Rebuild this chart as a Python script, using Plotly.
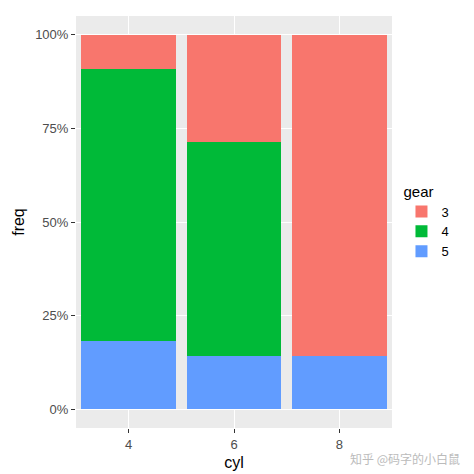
import plotly.graph_objects as go

cyl = ["4", "6", "8"]
gears = ["5", "4", "3"]
freq = {
    "3": [0.09, 0.286, 0.857],
    "4": [0.727, 0.571, 0.0],
    "5": [0.182, 0.143, 0.143],
}
colors = {"3": "#F8766D", "4": "#00BA38", "5": "#619CFF"}

fig = go.Figure()
for g in gears:
    fig.add_trace(go.Bar(name=g, x=cyl, y=freq[g], marker_color=colors[g],
                         marker_line_width=0))

fig.update_layout(
    barmode="stack", bargap=0.1,
    width=474, height=474,
    margin=dict(l=68, r=90, t=8, b=54, autoexpand=False),
    paper_bgcolor="white", plot_bgcolor="#EBEBEB",
    font=dict(family="Liberation Sans, Arial", size=13, color="#4D4D4D"),
    legend=dict(title=dict(text="gear", font=dict(size=15, color="black")),
                traceorder="reversed", x=1.03, y=0.5, yanchor="middle",
                font=dict(size=13, color="black")),
    xaxis=dict(title=dict(text="cyl", font=dict(size=16, color="black"), standoff=6),
               showgrid=True, gridcolor="white", ticks="outside",
               ticklen=4, tickcolor="#333333"),
    yaxis=dict(title=dict(text="freq", font=dict(size=16, color="black"), standoff=6),
               range=[-0.05, 1.05], tickvals=[0, 0.25, 0.5, 0.75, 1],
               ticktext=["0%", "25%", "50%", "75%", "100%"],
               gridcolor="white", zeroline=False, ticks="outside",
               ticklen=4, tickcolor="#333333"),
    annotations=[dict(text="知乎 @码字的小白鼠", x=1.22, y=-0.1, xref="paper",
                      yref="paper", showarrow=False, xanchor="right",
                      font=dict(family="Noto Sans CJK SC", size=12, color="#BBBBBB"))],
)
fig.write_html("out.html")
